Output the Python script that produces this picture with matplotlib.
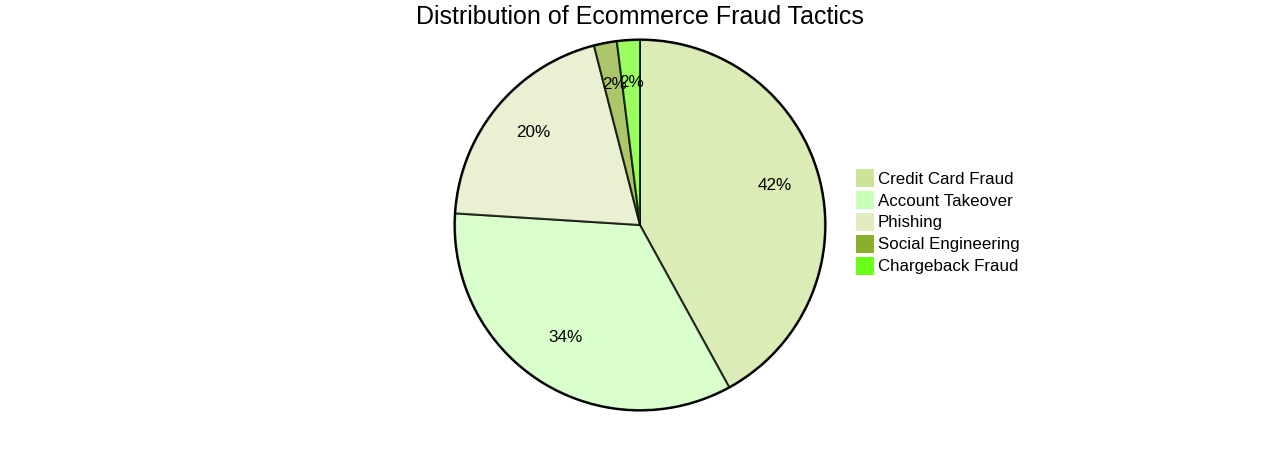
import matplotlib
matplotlib.use("Agg")
import matplotlib.pyplot as plt
from matplotlib.patches import Rectangle, Circle
import numpy as np

plt.rcParams['font.family'] = ['Liberation Sans', 'DejaVu Sans']

labels = ["Credit Card Fraud", "Account Takeover", "Phishing", "Social Engineering", "Chargeback Fraud"]
values = [42, 34, 20, 2, 2]
colors = ["#cde498", "#caffb8", "#e0ecbf", "#8aae2e", "#6cff1a"]
title = "Distribution of Ecommerce Fraud Tactics"

fig = plt.figure(figsize=(12.8, 4.5), dpi=100)
ax = fig.add_axes([0, 0, 1, 1])

cx, cy, r = 640, 225, 185
wedges, texts = ax.pie(values, colors=colors, startangle=90, counterclock=False,
                       center=(cx, -cy), radius=r, frame=False,
                       wedgeprops=dict(edgecolor='black', linewidth=1.45, alpha=0.7))
ax.set_ylim(-450, 0)
ax.set_xlim(0, 1280)
ax.set_aspect('equal')
ax.axis('off')
for w in wedges:
    w.set_edgecolor((0, 0, 0, 1))

total = sum(values)
start = 90.0
for v in values:
    ang = start - v / total * 360 / 2
    start -= v / total * 360
    x = cx + 0.75 * r * np.cos(np.radians(ang))
    y = -cy + 0.75 * r * np.sin(np.radians(ang)) + 4.5
    ax.text(x, y, f"{v / total * 100:.0f}%", ha='center', va='center', fontsize=12.3, color='black')

ax.add_patch(Circle((cx, -cy), r + 0.5, fill=False, edgecolor='black', linewidth=1.5))

for i, (lab, col) in enumerate(zip(labels, colors)):
    y0 = 169 + 22 * i
    ax.add_patch(Rectangle((856, -(y0 + 18)), 18, 18, facecolor=col, edgecolor=col, linewidth=0))
    ax.text(878, -(y0 + 10), lab, ha='left', va='center', fontsize=12.2, color='black')

ax.text(640, -17.5, title, ha='center', va='center', fontsize=18, color='black')

fig.savefig("out.png", dpi=100)
